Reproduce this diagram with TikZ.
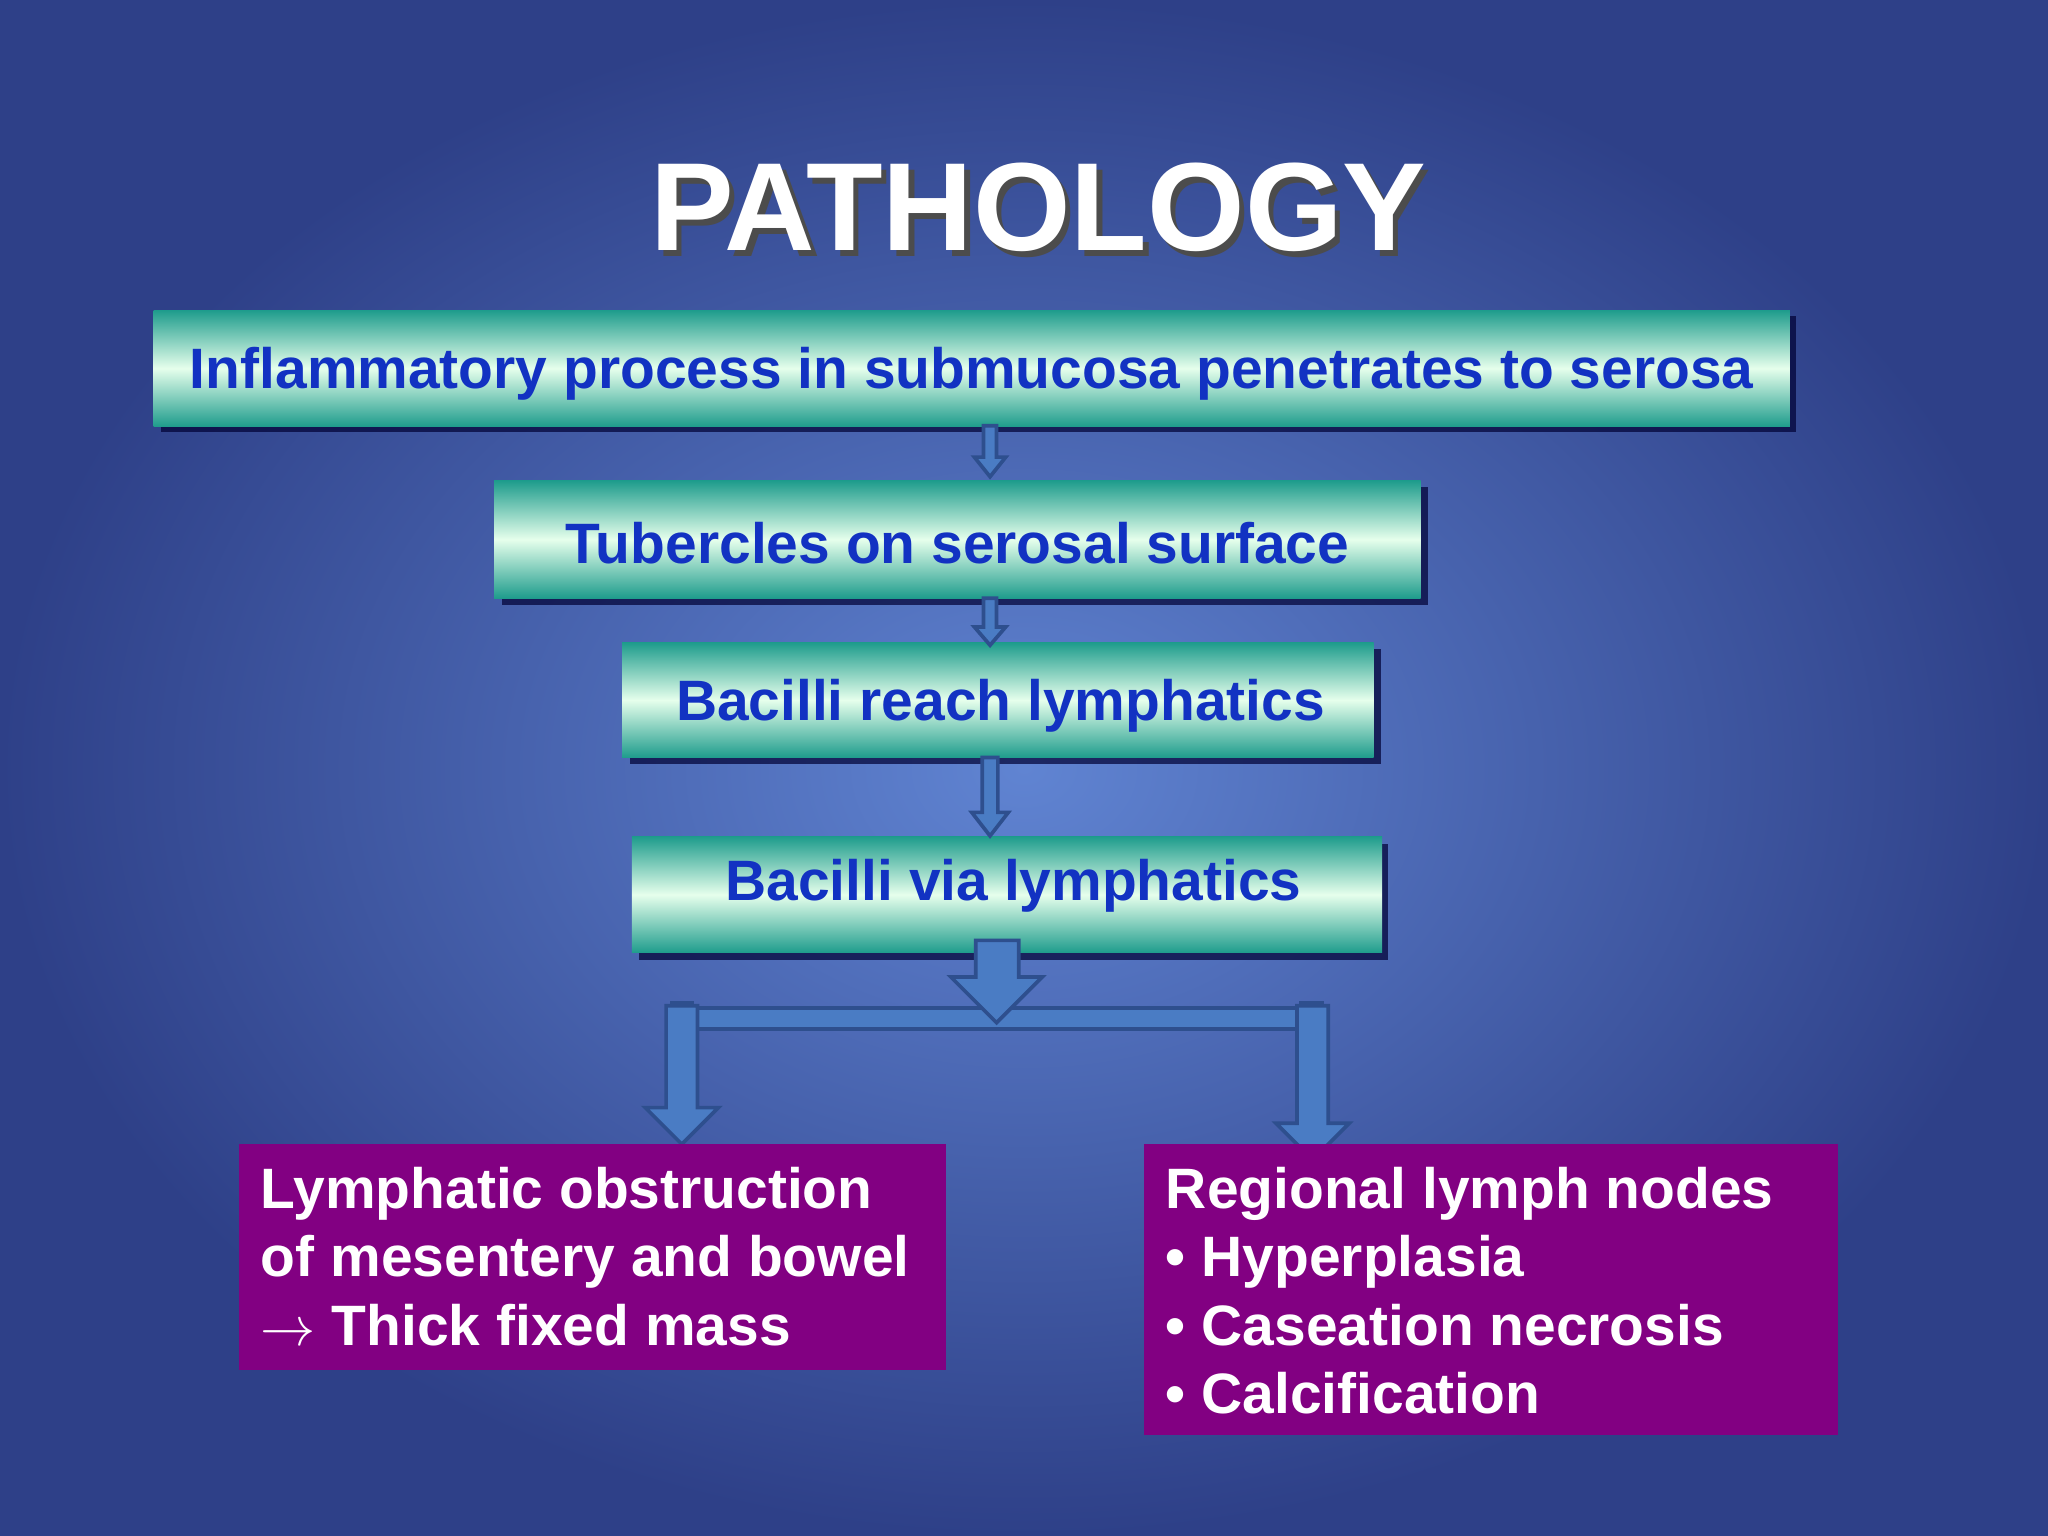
\documentclass[tikz,border=0pt]{standalone}
\usepackage{fontspec}
\setmainfont{Liberation Sans}
\definecolor{bgin}{HTML}{6084D2}
\definecolor{bgout}{HTML}{2E4088}
\definecolor{boxtxt}{HTML}{1232C2}
\definecolor{teal}{HTML}{1E9C8C}
\definecolor{mint}{HTML}{E6FFEC}
\definecolor{arr}{HTML}{4A7CC4}
\definecolor{arrd}{HTML}{2E4F8E}
\definecolor{purp}{HTML}{820082}
\tikzset{
 gbox/.style={minimum height=0.89cm, inner sep=0pt, top color=teal, bottom color=teal, middle color=mint,
   font=\bfseries\fontsize{12.4}{14}\selectfont, text=boxtxt},
 gtxt/.style={font=\bfseries\fontsize{12.4}{14}\selectfont, text=boxtxt},
 pbox/.style={text=white, align=left, anchor=north west, inner sep=0pt,
   font=\bfseries\fontsize{12.4}{14.9}\selectfont},
 arrow/.style={fill=arr, draw=arrd, line width=0.8pt, line join=miter}
}
\begin{document}
\begin{tikzpicture}[x=0.01cm,y=-0.01cm]
\shade[inner color=bgin, outer color=bgout] (0,0) rectangle (1568,1176);
\useasboundingbox (0,0) rectangle (1568,1176);
\node[font=\bfseries\fontsize{27.3}{31}\selectfont, text=black!70] at (799,163) {PATHOLOGY};
\node[font=\bfseries\fontsize{27.3}{31}\selectfont, text=white] (title) at (795,159) {PATHOLOGY};
% shadows
\fill[black!60!blue!50!black,opacity=0.7] (123,242) rectangle (1375,331);
\fill[black!60!blue!50!black,opacity=0.7] (384,373) rectangle (1093,463);
\fill[black!60!blue!50!black,opacity=0.7] (482,497) rectangle (1057,585);
\fill[black!60!blue!50!black,opacity=0.7] (489,646) rectangle (1063,735);
\node[gbox, minimum width=12.52cm] (b1) at (744,282) {};
\node[gtxt] at (744,286) {Inflammatory process in submucosa penetrates to serosa};
\node[gbox, minimum width=7.09cm, minimum height=0.9cm] (b2) at (733,413) {};
\node[gtxt] at (733,416) {Tubercles on serosal surface};
\node[gbox, minimum width=5.75cm, minimum height=0.88cm] (b3) at (764,536) {};
\node[gtxt] at (766,540) {Bacilli reach lymphatics};
\node[gbox, minimum width=5.74cm] (b4) at (771,685) {};
\node[gtxt] at (776,678) {Bacilli via lymphatics};
% small arrows
\draw[arrow] (753,326) -- (763,326) -- (763,350) -- (770,350) -- (758,365) -- (746,350) -- (753,350) -- cycle;
\draw[arrow] (753,458) -- (763,458) -- (763,480) -- (770,480) -- (758,494) -- (746,480) -- (753,480) -- cycle;
\draw[arrow] (752,580) -- (764,580) -- (764,622) -- (772,622) -- (758,640) -- (744,622) -- (752,622) -- cycle;
% big arrow and branches
\draw[arrow] (514,768) -- (530,768) -- (530,772) -- (996,772) -- (996,768) -- (1012,768) -- (1012,788) -- (514,788) -- cycle;
\draw[arrow] (747,720) -- (780,720) -- (780,748) -- (798,748) -- (763,783) -- (728,748) -- (747,748) -- cycle;
\draw[arrow] (510,770) -- (534,770) -- (534,848) -- (550,848) -- (522,876) -- (494,848) -- (510,848) -- cycle;
\draw[arrow] (993,770) -- (1017,770) -- (1017,860) -- (1033,860) -- (1005,888) -- (977,860) -- (993,860) -- cycle;
% bottom boxes
\fill[purp] (183,876) rectangle (724,1049);
\fill[purp] (876,876) rectangle (1407,1099);
\node[pbox] (l) at (199,893) {Lymphatic obstruction\\of mesentery and bowel\\$\rightarrow$ Thick fixed mass};
\node[pbox] (r) at (892,893) {Regional lymph nodes\\• Hyperplasia\\• Caseation necrosis\\• Calcification};
\end{tikzpicture}
\end{document}
